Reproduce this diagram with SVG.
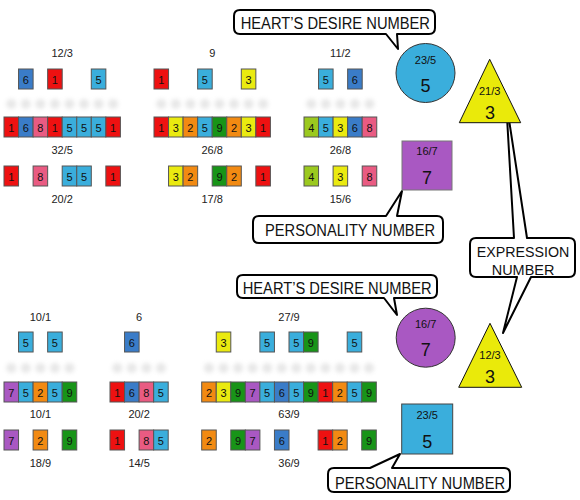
<svg xmlns="http://www.w3.org/2000/svg" width="580" height="500" viewBox="0 0 580 500">
<defs>
<style>
.b{stroke:#555;stroke-width:1}
.d1{fill:#ee1111}.d2{fill:#f28a12}.d3{fill:#eaea10}.d4{fill:#9bc91f}.d5{fill:#3aaedc}.d6{fill:#3a7cc8}.d7{fill:#a958c2}.d8{fill:#e95b82}.d9{fill:#189418}
text{font-family:"Liberation Sans",Arial,sans-serif;fill:#111;text-anchor:middle}
.bt{font-size:11px}
.lb{font-size:11px;fill:#222}
.big{font-size:18px}
.co{fill:#fff;stroke:#000;stroke-width:2;stroke-linejoin:round}
.ct{font-size:16px;text-anchor:start}
.ce{font-size:15px;text-anchor:start}
.bl{fill:#c4c4c4;opacity:0.4;filter:url(#blur)}
</style>
<filter id="blur" x="-60%" y="-60%" width="220%" height="220%"><feGaussianBlur stdDeviation="2"/></filter>
</defs>
<rect width="580" height="500" fill="#fff"/>

<g id="connectors">
<path class="co" d="M476,238 H514 L506,100 L527,238 H569 Q575,238 575,244 V271 Q575,277 569,277 H531 L503,333 L517,277 H476 Q470,277 470,271 V244 Q470,238 476,238 Z"/>
<text class="ce" x="476.7" y="257" textLength="92.6" lengthAdjust="spacingAndGlyphs">EXPRESSION</text>
<text class="ce" x="491.7" y="275" textLength="62.7" lengthAdjust="spacingAndGlyphs">NUMBER</text>
<path class="co" d="M240,10 H429 Q435,10 435,16 V28 Q435,34 429,34 H397 L398,49 L386,34 H240 Q234,34 234,28 V16 Q234,10 240,10 Z"/>
<text class="ct" x="240.7" y="29.3" textLength="189.3" lengthAdjust="spacingAndGlyphs">HEART’S DESIRE NUMBER</text>
<path class="co" d="M259,216 H386 L402,191 L397,216 H437 Q443,216 443,222 V237 Q443,243 437,243 H259 Q253,243 253,237 V222 Q253,216 259,216 Z"/>
<text class="ct" x="265" y="236" textLength="170" lengthAdjust="spacingAndGlyphs">PERSONALITY NUMBER</text>
<path class="co" d="M243,275 H431 Q437,275 437,281 V292 Q437,298 431,298 H394 L397,315 L384,298 H243 Q237,298 237,292 V281 Q237,275 243,275 Z"/>
<text class="ct" x="242.7" y="294" textLength="189" lengthAdjust="spacingAndGlyphs">HEART’S DESIRE NUMBER</text>
<path class="co" d="M334,468 H370 L400,454 L392,468 H504 Q510,468 510,474 V486 Q510,492 504,492 H334 Q328,492 328,486 V474 Q328,468 334,468 Z"/>
<text class="ct" x="335" y="489" textLength="170" lengthAdjust="spacingAndGlyphs">PERSONALITY NUMBER</text>
</g>

<g id="top-heart-circle">
<circle cx="425.5" cy="73" r="29.5" class="d5" stroke="#333" stroke-width="1"/>
<text class="bt" x="425.5" y="64.3">23/5</text>
<text class="big" x="425.5" y="92">5</text>
</g>
<g id="top-expression-triangle">
<polygon points="489.7,59.3 520.7,122.7 459.3,122.7" fill="#eaea0a" stroke="#111" stroke-width="1"/>
<text class="bt" x="489.7" y="95">21/3</text>
<text class="big" x="490" y="118.7">3</text>
</g>
<g id="top-personality-square">
<rect x="402" y="141" width="50" height="49" class="d7" stroke="#777" stroke-width="1"/>
<text class="bt" x="427" y="155.3">16/7</text>
<text class="big" x="427" y="184">7</text>
</g>
<g id="bottom-heart-circle">
<circle cx="425.7" cy="337.7" r="29.5" class="d7" stroke="#333" stroke-width="1"/>
<text class="bt" x="425.7" y="328">16/7</text>
<text class="big" x="425.7" y="356">7</text>
</g>
<g id="bottom-expression-triangle">
<polygon points="490,323.3 521.7,387.3 458.7,387.3" fill="#eaea0a" stroke="#111" stroke-width="1"/>
<text class="bt" x="490" y="359">12/3</text>
<text class="big" x="490" y="382.7">3</text>
</g>
<g id="bottom-personality-square">
<rect x="401.7" y="404" width="51" height="50" class="d5" stroke="#444" stroke-width="1"/>
<text class="bt" x="427.2" y="419.3">23/5</text>
<text class="big" x="427.2" y="447.7">5</text>
</g>

<g id="name1">
<text class="lb" x="62.2" y="57">12/3</text>
<text class="lb" x="62.2" y="154">32/5</text>
<text class="lb" x="62.2" y="203">20/2</text>
<g class="bl"><circle cx="11.28" cy="104" r="5"/><circle cx="25.83" cy="104" r="5"/><circle cx="40.38" cy="104" r="5"/><circle cx="54.93" cy="104" r="5"/><circle cx="69.48" cy="104" r="5"/><circle cx="84.03" cy="104" r="5"/><circle cx="98.58" cy="104" r="5"/><circle cx="113.13" cy="104" r="5"/></g>
<rect class="b d6" x="18.55" y="69" width="14.55" height="20"/><text class="bt" x="25.83" y="83.5">6</text>
<rect class="b d1" x="47.65" y="69" width="14.55" height="20"/><text class="bt" x="54.93" y="83.5">1</text>
<rect class="b d5" x="91.3" y="69" width="14.55" height="20"/><text class="bt" x="98.58" y="83.5">5</text>
<rect class="b d1" x="4" y="117" width="14.55" height="20"/><text class="bt" x="11.28" y="131.5">1</text>
<rect class="b d6" x="18.55" y="117" width="14.55" height="20"/><text class="bt" x="25.83" y="131.5">6</text>
<rect class="b d8" x="33.1" y="117" width="14.55" height="20"/><text class="bt" x="40.38" y="131.5">8</text>
<rect class="b d1" x="47.65" y="117" width="14.55" height="20"/><text class="bt" x="54.93" y="131.5">1</text>
<rect class="b d5" x="62.2" y="117" width="14.55" height="20"/><text class="bt" x="69.48" y="131.5">5</text>
<rect class="b d5" x="76.75" y="117" width="14.55" height="20"/><text class="bt" x="84.03" y="131.5">5</text>
<rect class="b d5" x="91.3" y="117" width="14.55" height="20"/><text class="bt" x="98.58" y="131.5">5</text>
<rect class="b d1" x="105.85" y="117" width="14.55" height="20"/><text class="bt" x="113.13" y="131.5">1</text>
<rect class="b d1" x="4" y="166" width="14.55" height="20"/><text class="bt" x="11.28" y="180.5">1</text>
<rect class="b d8" x="33.1" y="166" width="14.55" height="20"/><text class="bt" x="40.38" y="180.5">8</text>
<rect class="b d5" x="62.2" y="166" width="14.55" height="20"/><text class="bt" x="69.48" y="180.5">5</text>
<rect class="b d5" x="76.75" y="166" width="14.55" height="20"/><text class="bt" x="84.03" y="180.5">5</text>
<rect class="b d1" x="105.85" y="166" width="14.55" height="20"/><text class="bt" x="113.13" y="180.5">1</text>
</g>

<g id="name2">
<text class="lb" x="212.2" y="57">9</text>
<text class="lb" x="212.2" y="154">26/8</text>
<text class="lb" x="212.2" y="203">17/8</text>
<g class="bl"><circle cx="161.28" cy="104" r="5"/><circle cx="175.83" cy="104" r="5"/><circle cx="190.38" cy="104" r="5"/><circle cx="204.93" cy="104" r="5"/><circle cx="219.48" cy="104" r="5"/><circle cx="234.03" cy="104" r="5"/><circle cx="248.58" cy="104" r="5"/><circle cx="263.13" cy="104" r="5"/></g>
<rect class="b d1" x="154" y="69" width="14.55" height="20"/><text class="bt" x="161.28" y="83.5">1</text>
<rect class="b d5" x="197.65" y="69" width="14.55" height="20"/><text class="bt" x="204.93" y="83.5">5</text>
<rect class="b d3" x="241.3" y="69" width="14.55" height="20"/><text class="bt" x="248.58" y="83.5">3</text>
<rect class="b d1" x="154" y="117" width="14.55" height="20"/><text class="bt" x="161.28" y="131.5">1</text>
<rect class="b d3" x="168.55" y="117" width="14.55" height="20"/><text class="bt" x="175.83" y="131.5">3</text>
<rect class="b d2" x="183.1" y="117" width="14.55" height="20"/><text class="bt" x="190.38" y="131.5">2</text>
<rect class="b d5" x="197.65" y="117" width="14.55" height="20"/><text class="bt" x="204.93" y="131.5">5</text>
<rect class="b d9" x="212.2" y="117" width="14.55" height="20"/><text class="bt" x="219.48" y="131.5">9</text>
<rect class="b d2" x="226.75" y="117" width="14.55" height="20"/><text class="bt" x="234.03" y="131.5">2</text>
<rect class="b d3" x="241.3" y="117" width="14.55" height="20"/><text class="bt" x="248.58" y="131.5">3</text>
<rect class="b d1" x="255.85" y="117" width="14.55" height="20"/><text class="bt" x="263.13" y="131.5">1</text>
<rect class="b d3" x="168.55" y="166" width="14.55" height="20"/><text class="bt" x="175.83" y="180.5">3</text>
<rect class="b d2" x="183.1" y="166" width="14.55" height="20"/><text class="bt" x="190.38" y="180.5">2</text>
<rect class="b d9" x="212.2" y="166" width="14.55" height="20"/><text class="bt" x="219.48" y="180.5">9</text>
<rect class="b d2" x="226.75" y="166" width="14.55" height="20"/><text class="bt" x="234.03" y="180.5">2</text>
<rect class="b d1" x="255.85" y="166" width="14.55" height="20"/><text class="bt" x="263.13" y="180.5">1</text>
</g>

<g id="name3">
<text class="lb" x="340.4" y="57">11/2</text>
<text class="lb" x="340.4" y="154">26/8</text>
<text class="lb" x="340.4" y="203">15/6</text>
<g class="bl"><circle cx="311.28" cy="104" r="5"/><circle cx="325.83" cy="104" r="5"/><circle cx="340.38" cy="104" r="5"/><circle cx="354.93" cy="104" r="5"/><circle cx="369.48" cy="104" r="5"/></g>
<rect class="b d5" x="318.55" y="69" width="14.55" height="20"/><text class="bt" x="325.83" y="83.5">5</text>
<rect class="b d6" x="347.65" y="69" width="14.55" height="20"/><text class="bt" x="354.93" y="83.5">6</text>
<rect class="b d4" x="304" y="117" width="14.55" height="20"/><text class="bt" x="311.28" y="131.5">4</text>
<rect class="b d5" x="318.55" y="117" width="14.55" height="20"/><text class="bt" x="325.83" y="131.5">5</text>
<rect class="b d3" x="333.1" y="117" width="14.55" height="20"/><text class="bt" x="340.38" y="131.5">3</text>
<rect class="b d6" x="347.65" y="117" width="14.55" height="20"/><text class="bt" x="354.93" y="131.5">6</text>
<rect class="b d8" x="362.2" y="117" width="14.55" height="20"/><text class="bt" x="369.48" y="131.5">8</text>
<rect class="b d4" x="304" y="166" width="14.55" height="20"/><text class="bt" x="311.28" y="180.5">4</text>
<rect class="b d3" x="333.1" y="166" width="14.55" height="20"/><text class="bt" x="340.38" y="180.5">3</text>
<rect class="b d8" x="362.2" y="166" width="14.55" height="20"/><text class="bt" x="369.48" y="180.5">8</text>
</g>

<g id="name4">
<text class="lb" x="40.4" y="321">10/1</text>
<text class="lb" x="40.4" y="418">10/1</text>
<text class="lb" x="40.4" y="467">18/9</text>
<g class="bl"><circle cx="11.28" cy="368" r="5"/><circle cx="25.83" cy="368" r="5"/><circle cx="40.38" cy="368" r="5"/><circle cx="54.93" cy="368" r="5"/><circle cx="69.48" cy="368" r="5"/></g>
<rect class="b d5" x="18.55" y="332" width="14.55" height="20"/><text class="bt" x="25.83" y="346.5">5</text>
<rect class="b d5" x="47.65" y="332" width="14.55" height="20"/><text class="bt" x="54.93" y="346.5">5</text>
<rect class="b d7" x="4" y="382" width="14.55" height="20"/><text class="bt" x="11.28" y="396.5">7</text>
<rect class="b d5" x="18.55" y="382" width="14.55" height="20"/><text class="bt" x="25.83" y="396.5">5</text>
<rect class="b d2" x="33.1" y="382" width="14.55" height="20"/><text class="bt" x="40.38" y="396.5">2</text>
<rect class="b d5" x="47.65" y="382" width="14.55" height="20"/><text class="bt" x="54.93" y="396.5">5</text>
<rect class="b d9" x="62.2" y="382" width="14.55" height="20"/><text class="bt" x="69.48" y="396.5">9</text>
<rect class="b d7" x="4" y="430" width="14.55" height="20"/><text class="bt" x="11.28" y="444.5">7</text>
<rect class="b d2" x="33.1" y="430" width="14.55" height="20"/><text class="bt" x="40.38" y="444.5">2</text>
<rect class="b d9" x="62.2" y="430" width="14.55" height="20"/><text class="bt" x="69.48" y="444.5">9</text>
</g>

<g id="name5">
<text class="lb" x="139.1" y="321">6</text>
<text class="lb" x="139.1" y="418">20/2</text>
<text class="lb" x="139.1" y="467">14/5</text>
<g class="bl"><circle cx="117.28" cy="368" r="5"/><circle cx="131.83" cy="368" r="5"/><circle cx="146.38" cy="368" r="5"/><circle cx="160.93" cy="368" r="5"/></g>
<rect class="b d6" x="124.55" y="332" width="14.55" height="20"/><text class="bt" x="131.83" y="346.5">6</text>
<rect class="b d1" x="110" y="382" width="14.55" height="20"/><text class="bt" x="117.28" y="396.5">1</text>
<rect class="b d6" x="124.55" y="382" width="14.55" height="20"/><text class="bt" x="131.83" y="396.5">6</text>
<rect class="b d8" x="139.1" y="382" width="14.55" height="20"/><text class="bt" x="146.38" y="396.5">8</text>
<rect class="b d5" x="153.65" y="382" width="14.55" height="20"/><text class="bt" x="160.93" y="396.5">5</text>
<rect class="b d1" x="110" y="430" width="14.55" height="20"/><text class="bt" x="117.28" y="444.5">1</text>
<rect class="b d8" x="139.1" y="430" width="14.55" height="20"/><text class="bt" x="146.38" y="444.5">8</text>
<rect class="b d5" x="153.65" y="430" width="14.55" height="20"/><text class="bt" x="160.93" y="444.5">5</text>
</g>

<g id="name6">
<text class="lb" x="289" y="321">27/9</text>
<text class="lb" x="289" y="418">63/9</text>
<text class="lb" x="289" y="467">36/9</text>
<g class="bl"><circle cx="208.98" cy="368" r="5"/><circle cx="223.53" cy="368" r="5"/><circle cx="238.08" cy="368" r="5"/><circle cx="252.63" cy="368" r="5"/><circle cx="267.18" cy="368" r="5"/><circle cx="281.73" cy="368" r="5"/><circle cx="296.28" cy="368" r="5"/><circle cx="310.83" cy="368" r="5"/><circle cx="325.38" cy="368" r="5"/><circle cx="339.93" cy="368" r="5"/><circle cx="354.48" cy="368" r="5"/><circle cx="369.03" cy="368" r="5"/></g>
<rect class="b d3" x="216.25" y="332" width="14.55" height="20"/><text class="bt" x="223.53" y="346.5">3</text>
<rect class="b d5" x="259.9" y="332" width="14.55" height="20"/><text class="bt" x="267.18" y="346.5">5</text>
<rect class="b d5" x="289" y="332" width="14.55" height="20"/><text class="bt" x="296.28" y="346.5">5</text>
<rect class="b d9" x="303.55" y="332" width="14.55" height="20"/><text class="bt" x="310.83" y="346.5">9</text>
<rect class="b d5" x="347.2" y="332" width="14.55" height="20"/><text class="bt" x="354.48" y="346.5">5</text>
<rect class="b d2" x="201.7" y="382" width="14.55" height="20"/><text class="bt" x="208.98" y="396.5">2</text>
<rect class="b d3" x="216.25" y="382" width="14.55" height="20"/><text class="bt" x="223.53" y="396.5">3</text>
<rect class="b d9" x="230.8" y="382" width="14.55" height="20"/><text class="bt" x="238.08" y="396.5">9</text>
<rect class="b d7" x="245.35" y="382" width="14.55" height="20"/><text class="bt" x="252.63" y="396.5">7</text>
<rect class="b d5" x="259.9" y="382" width="14.55" height="20"/><text class="bt" x="267.18" y="396.5">5</text>
<rect class="b d6" x="274.45" y="382" width="14.55" height="20"/><text class="bt" x="281.73" y="396.5">6</text>
<rect class="b d5" x="289" y="382" width="14.55" height="20"/><text class="bt" x="296.28" y="396.5">5</text>
<rect class="b d9" x="303.55" y="382" width="14.55" height="20"/><text class="bt" x="310.83" y="396.5">9</text>
<rect class="b d1" x="318.1" y="382" width="14.55" height="20"/><text class="bt" x="325.38" y="396.5">1</text>
<rect class="b d2" x="332.65" y="382" width="14.55" height="20"/><text class="bt" x="339.93" y="396.5">2</text>
<rect class="b d5" x="347.2" y="382" width="14.55" height="20"/><text class="bt" x="354.48" y="396.5">5</text>
<rect class="b d9" x="361.75" y="382" width="14.55" height="20"/><text class="bt" x="369.03" y="396.5">9</text>
<rect class="b d2" x="201.7" y="430" width="14.55" height="20"/><text class="bt" x="208.98" y="444.5">2</text>
<rect class="b d9" x="230.8" y="430" width="14.55" height="20"/><text class="bt" x="238.08" y="444.5">9</text>
<rect class="b d7" x="245.35" y="430" width="14.55" height="20"/><text class="bt" x="252.63" y="444.5">7</text>
<rect class="b d6" x="274.45" y="430" width="14.55" height="20"/><text class="bt" x="281.73" y="444.5">6</text>
<rect class="b d1" x="318.1" y="430" width="14.55" height="20"/><text class="bt" x="325.38" y="444.5">1</text>
<rect class="b d2" x="332.65" y="430" width="14.55" height="20"/><text class="bt" x="339.93" y="444.5">2</text>
<rect class="b d9" x="361.75" y="430" width="14.55" height="20"/><text class="bt" x="369.03" y="444.5">9</text>
</g>
</svg>
